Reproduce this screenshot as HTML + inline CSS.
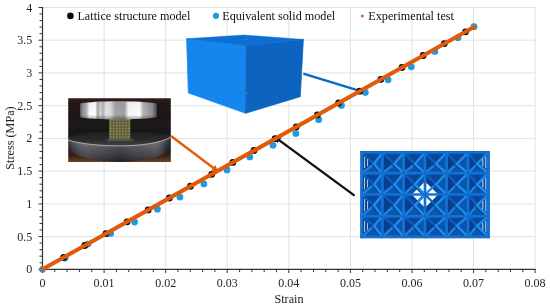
<!DOCTYPE html>
<html><head><meta charset="utf-8"><title>Stress-strain chart</title>
<style>html,body{margin:0;padding:0;background:#fff}body{width:550px;height:308px;overflow:hidden}</style></head>
<body>
<svg width="550" height="308" viewBox="0 0 550 308" style="display:block">
<rect width="550" height="308" fill="#fff"/>
<path d="M104.1 7.5V269.3M165.7 7.5V269.3M227.2 7.5V269.3M288.8 7.5V269.3M350.4 7.5V269.3M412.0 7.5V269.3M473.6 7.5V269.3M535.1 7.5V269.3M42.5 236.6H535.1M42.5 203.9H535.1M42.5 171.1H535.1M42.5 138.4H535.1M42.5 105.7H535.1M42.5 72.9H535.1M42.5 40.2H535.1M42.5 7.5H535.1" stroke="#e2e2e2" stroke-width="1" fill="none"/>
<path d="M42.5 7.0V269.3H535.6" stroke="#333" stroke-width="1.2" fill="none"/>
<path d="M42.5 269.3v3.8M54.8 269.3v2.8M67.1 269.3v2.8M79.4 269.3v2.8M91.8 269.3v2.8M104.1 269.3v3.8M116.4 269.3v2.8M128.7 269.3v2.8M141.0 269.3v2.8M153.3 269.3v2.8M165.7 269.3v3.8M178.0 269.3v2.8M190.3 269.3v2.8M202.6 269.3v2.8M214.9 269.3v2.8M227.2 269.3v3.8M239.6 269.3v2.8M251.9 269.3v2.8M264.2 269.3v2.8M276.5 269.3v2.8M288.8 269.3v3.8M301.1 269.3v2.8M313.5 269.3v2.8M325.8 269.3v2.8M338.1 269.3v2.8M350.4 269.3v3.8M362.7 269.3v2.8M375.0 269.3v2.8M387.3 269.3v2.8M399.7 269.3v2.8M412.0 269.3v3.8M424.3 269.3v2.8M436.6 269.3v2.8M448.9 269.3v2.8M461.2 269.3v2.8M473.6 269.3v3.8M485.9 269.3v2.8M498.2 269.3v2.8M510.5 269.3v2.8M522.8 269.3v2.8M535.1 269.3v3.8M42.5 269.3h-4M42.5 262.8h-3M42.5 256.2h-3M42.5 249.7h-3M42.5 243.1h-3M42.5 236.6h-4M42.5 230.0h-3M42.5 223.5h-3M42.5 216.9h-3M42.5 210.4h-3M42.5 203.9h-4M42.5 197.3h-3M42.5 190.8h-3M42.5 184.2h-3M42.5 177.7h-3M42.5 171.1h-4M42.5 164.6h-3M42.5 158.0h-3M42.5 151.5h-3M42.5 144.9h-3M42.5 138.4h-4M42.5 131.9h-3M42.5 125.3h-3M42.5 118.8h-3M42.5 112.2h-3M42.5 105.7h-4M42.5 99.1h-3M42.5 92.6h-3M42.5 86.0h-3M42.5 79.5h-3M42.5 72.9h-4M42.5 66.4h-3M42.5 59.9h-3M42.5 53.3h-3M42.5 46.8h-3M42.5 40.2h-4M42.5 33.7h-3M42.5 27.1h-3M42.5 20.6h-3M42.5 14.0h-3M42.5 7.5h-4" stroke="#333" stroke-width="1" fill="none"/>
<g font-family="Liberation Serif, serif" font-size="12" fill="#262626">
<text x="32.2" y="273.3" text-anchor="end">0</text>
<text x="32.2" y="240.6" text-anchor="end">0.5</text>
<text x="32.2" y="207.9" text-anchor="end">1</text>
<text x="32.2" y="175.1" text-anchor="end">1.5</text>
<text x="32.2" y="142.4" text-anchor="end">2</text>
<text x="32.2" y="109.7" text-anchor="end">2.5</text>
<text x="32.2" y="76.9" text-anchor="end">3</text>
<text x="32.2" y="44.2" text-anchor="end">3.5</text>
<text x="32.2" y="11.5" text-anchor="end">4</text>
<text x="42.5" y="287" text-anchor="middle">0</text>
<text x="104.1" y="287" text-anchor="middle">0.01</text>
<text x="165.7" y="287" text-anchor="middle">0.02</text>
<text x="227.2" y="287" text-anchor="middle">0.03</text>
<text x="288.8" y="287" text-anchor="middle">0.04</text>
<text x="350.4" y="287" text-anchor="middle">0.05</text>
<text x="412.0" y="287" text-anchor="middle">0.06</text>
<text x="473.6" y="287" text-anchor="middle">0.07</text>
<text x="535.1" y="287" text-anchor="middle">0.08</text>
<text x="289" y="302.5" text-anchor="middle" fill="#222" font-size="12.2">Strain</text>
<text transform="translate(14.2,138) rotate(-90)" text-anchor="middle" fill="#222" font-size="12.2">Stress (MPa)</text>
</g>
<g id="cube">
<polygon points="186.6,38.8 246.2,45.5 245.6,113.3 188.3,92.9" fill="#1486ed" stroke="#1486ed" stroke-width="0.7"/>
<polygon points="246.2,45.5 303.4,39.4 300.3,96.7 245.6,113.3" fill="#0c64c0" stroke="#0c64c0" stroke-width="0.7"/>
<polygon points="186.6,38.8 244,35.0 303.4,39.4 246.2,45.5" fill="#0d6fd2" stroke="#0d6fd2" stroke-width="0.5"/>
<path d="M244.8 39.3h2.6M245.2 93.3h2.8" stroke="#25b04a" stroke-width="0.9"/>
</g>
<g id="photo">
<defs>
<linearGradient id="pl1" x1="0" x2="1" y1="0" y2="0"><stop offset="0" stop-color="#4e4e50"/><stop offset="0.03" stop-color="#8c8c8e"/><stop offset="0.09" stop-color="#b4b4b6"/><stop offset="0.12" stop-color="#f8f8f8"/><stop offset="0.2" stop-color="#ffffff"/><stop offset="0.23" stop-color="#a9a9ab"/><stop offset="0.27" stop-color="#d4d4d6"/><stop offset="0.30" stop-color="#b0b0b2"/><stop offset="0.34" stop-color="#e6e6e6"/><stop offset="0.40" stop-color="#dcdcdc"/><stop offset="0.46" stop-color="#a6a6a8"/><stop offset="0.58" stop-color="#a0a0a3"/><stop offset="0.63" stop-color="#f6f6f6"/><stop offset="0.78" stop-color="#fcfcfc"/><stop offset="0.82" stop-color="#b6b6b8"/><stop offset="0.94" stop-color="#8f8f92"/><stop offset="1" stop-color="#4a4a4c"/></linearGradient>
<linearGradient id="pl1v" x1="0" x2="0" y1="0" y2="1"><stop offset="0" stop-color="#000" stop-opacity="0.05"/><stop offset="0.75" stop-color="#000" stop-opacity="0"/><stop offset="1" stop-color="#000" stop-opacity="0.35"/></linearGradient>
<linearGradient id="pl2" x1="0" x2="0" y1="0" y2="1"><stop offset="0" stop-color="#97999c"/><stop offset="0.12" stop-color="#76787c"/><stop offset="0.45" stop-color="#505155"/><stop offset="0.8" stop-color="#38383b"/><stop offset="1" stop-color="#222224"/></linearGradient>
<linearGradient id="pl2h" x1="0" x2="1" y1="0" y2="0"><stop offset="0" stop-color="#000" stop-opacity="0.55"/><stop offset="0.06" stop-color="#000" stop-opacity="0.2"/><stop offset="0.2" stop-color="#fff" stop-opacity="0.08"/><stop offset="0.5" stop-color="#000" stop-opacity="0.12"/><stop offset="0.8" stop-color="#fff" stop-opacity="0.05"/><stop offset="0.93" stop-color="#000" stop-opacity="0.3"/><stop offset="1" stop-color="#000" stop-opacity="0.7"/></linearGradient>
<linearGradient id="bg1" x1="0" x2="0" y1="0" y2="1"><stop offset="0" stop-color="#2e1c14"/><stop offset="0.12" stop-color="#211712"/><stop offset="0.45" stop-color="#1a1a16"/><stop offset="0.75" stop-color="#15110e"/><stop offset="0.9" stop-color="#3a2416"/><stop offset="1" stop-color="#6a4426"/></linearGradient>
<linearGradient id="top2" x1="0" x2="0" y1="0" y2="1"><stop offset="0" stop-color="#1c1c1c"/><stop offset="0.6" stop-color="#2e2e2f"/><stop offset="1" stop-color="#454547"/></linearGradient>
<clipPath id="pc"><rect x="68.2" y="98.2" width="102.6" height="63.7"/></clipPath>
</defs>
<filter id="pb" x="-5%" y="-5%" width="110%" height="110%"><feGaussianBlur stdDeviation="0.45"/></filter>
<g clip-path="url(#pc)"><g filter="url(#pb)">
<rect x="68" y="98" width="103" height="64.2" fill="url(#bg1)"/>
<path d="M67 138 C80 132.5 100 131.5 119.5 131.5 C140 131.5 160 132.5 172 136 L172 139 C160 145 140 146.5 119.5 146.5 C100 146.5 80 145 67 140Z" fill="url(#top2)"/>
<path d="M67 139.6 C75 142.6 95 145.9 119.5 145.9 C142 145.9 163 142.5 172 136.3 L172 148.5 C165 156 145 161.8 119.5 161.8 C95 161.8 76 157 67 148.5Z" fill="url(#pl2)"/>
<path d="M67 139.6 C75 142.6 95 145.9 119.5 145.9 C142 145.9 163 142.5 172 136.3 L172 148.5 C165 156 145 161.8 119.5 161.8 C95 161.8 76 157 67 148.5Z" fill="url(#pl2h)"/>
<path d="M67 139.6 C75 142.6 95 145.9 119.5 145.9 C142 145.9 163 142.5 172 136.3" stroke="#b4b6b9" stroke-width="0.9" fill="none"/>
<rect x="109" y="119" width="21.4" height="21" fill="#5f5d3b"/>
<path d="M110.6 119v21M113.6 119v21M116.7 119v21M119.8 119v21M122.9 119v21M126 119v21M129 119v21" stroke="#908d5b" stroke-width="1.5" stroke-dasharray="1.7 1.2"/>
<rect x="107" y="139.2" width="26" height="2.2" fill="#55564a" opacity="0.8"/>
<path d="M79.9 103.6 C95 100.6 140 100.6 156.8 103.6 V117.2 C140 119.9 95 119.9 79.9 117.2Z" fill="url(#pl1)"/>
<path d="M79.9 103.6 C95 100.6 140 100.6 156.8 103.6 V117.2 C140 119.9 95 119.9 79.9 117.2Z" fill="url(#pl1v)"/>
</g></g></g>
<g id="lattice">
<defs><clipPath id="lc"><rect x="360.3" y="151.0" width="129.5" height="87.3"/></clipPath></defs>
<g clip-path="url(#lc)">
<rect x="359.3" y="150.0" width="131.5" height="89.3" fill="#0a55ad"/>
<polygon points="361.8,152.5 374.0,164.0 361.8,173.2" fill="#073f8e"/><polygon points="361.8,152.5 382.4,152.5 374.0,164.0" fill="#084799"/><polygon points="382.4,152.5 394.3,164.0 382.4,173.2" fill="#073f8e"/><polygon points="382.4,152.5 403.6,152.5 394.3,164.0" fill="#084799"/><polygon points="403.6,152.5 414.9,164.0 403.6,173.2" fill="#073f8e"/><polygon points="403.6,152.5 425.0,152.5 414.9,164.0" fill="#084799"/><polygon points="425.0,152.5 435.8,164.0 425.0,173.2" fill="#073f8e"/><polygon points="425.0,152.5 446.6,152.5 435.8,164.0" fill="#084799"/><polygon points="446.6,152.5 456.7,164.0 446.6,173.2" fill="#073f8e"/><polygon points="446.6,152.5 468.1,152.5 456.7,164.0" fill="#084799"/><polygon points="468.1,152.5 476.9,164.0 468.1,173.2" fill="#073f8e"/><polygon points="468.1,152.5 488.3,152.5 476.9,164.0" fill="#084799"/><polygon points="361.8,173.2 374.0,184.4 361.8,194.5" fill="#073f8e"/><polygon points="361.8,173.2 382.4,173.2 374.0,184.4" fill="#084799"/><polygon points="382.4,173.2 394.3,184.4 382.4,194.5" fill="#073f8e"/><polygon points="382.4,173.2 403.6,173.2 394.3,184.4" fill="#084799"/><polygon points="403.6,173.2 414.9,184.4 403.6,194.5" fill="#073f8e"/><polygon points="403.6,173.2 425.0,173.2 414.9,184.4" fill="#084799"/><polygon points="425.0,173.2 435.8,184.4 425.0,194.5" fill="#073f8e"/><polygon points="425.0,173.2 446.6,173.2 435.8,184.4" fill="#084799"/><polygon points="446.6,173.2 456.7,184.4 446.6,194.5" fill="#073f8e"/><polygon points="446.6,173.2 468.1,173.2 456.7,184.4" fill="#084799"/><polygon points="468.1,173.2 476.9,184.4 468.1,194.5" fill="#073f8e"/><polygon points="468.1,173.2 488.3,173.2 476.9,184.4" fill="#084799"/><polygon points="361.8,194.5 374.0,205.3 361.8,216.4" fill="#073f8e"/><polygon points="361.8,194.5 382.4,194.5 374.0,205.3" fill="#084799"/><polygon points="382.4,194.5 394.3,205.3 382.4,216.4" fill="#073f8e"/><polygon points="382.4,194.5 403.6,194.5 394.3,205.3" fill="#084799"/><polygon points="403.6,194.5 414.9,205.3 403.6,216.4" fill="#073f8e"/><polygon points="403.6,194.5 425.0,194.5 414.9,205.3" fill="#084799"/><polygon points="425.0,194.5 435.8,205.3 425.0,216.4" fill="#073f8e"/><polygon points="425.0,194.5 446.6,194.5 435.8,205.3" fill="#084799"/><polygon points="446.6,194.5 456.7,205.3 446.6,216.4" fill="#073f8e"/><polygon points="446.6,194.5 468.1,194.5 456.7,205.3" fill="#084799"/><polygon points="468.1,194.5 476.9,205.3 468.1,216.4" fill="#073f8e"/><polygon points="468.1,194.5 488.3,194.5 476.9,205.3" fill="#084799"/><polygon points="361.8,216.4 374.0,225.8 361.8,236.8" fill="#073f8e"/><polygon points="361.8,216.4 382.4,216.4 374.0,225.8" fill="#084799"/><polygon points="382.4,216.4 394.3,225.8 382.4,236.8" fill="#073f8e"/><polygon points="382.4,216.4 403.6,216.4 394.3,225.8" fill="#084799"/><polygon points="403.6,216.4 414.9,225.8 403.6,236.8" fill="#073f8e"/><polygon points="403.6,216.4 425.0,216.4 414.9,225.8" fill="#084799"/><polygon points="425.0,216.4 435.8,225.8 425.0,236.8" fill="#073f8e"/><polygon points="425.0,216.4 446.6,216.4 435.8,225.8" fill="#084799"/><polygon points="446.6,216.4 456.7,225.8 446.6,236.8" fill="#073f8e"/><polygon points="446.6,216.4 468.1,216.4 456.7,225.8" fill="#084799"/><polygon points="468.1,216.4 476.9,225.8 468.1,236.8" fill="#073f8e"/><polygon points="468.1,216.4 488.3,216.4 476.9,225.8" fill="#084799"/>
<polygon points="411.8,194.6 425.0,181.4 438.2,194.6 425.0,207.79999999999998" fill="#fff"/>
<path d="M361.8 152.5L374.0 164.0M382.4 152.5L394.3 164.0M403.6 152.5L414.9 164.0M425.0 152.5L435.8 164.0M446.6 152.5L456.7 164.0M468.1 152.5L476.9 164.0M361.8 173.2L374.0 184.4M382.4 173.2L394.3 184.4M403.6 173.2L414.9 184.4M425.0 173.2L435.8 184.4M446.6 173.2L456.7 184.4M468.1 173.2L476.9 184.4M361.8 194.5L374.0 205.3M382.4 194.5L394.3 205.3M403.6 194.5L414.9 205.3M425.0 194.5L435.8 205.3M446.6 194.5L456.7 205.3M468.1 194.5L476.9 205.3M361.8 216.4L374.0 225.8M382.4 216.4L394.3 225.8M403.6 216.4L414.9 225.8M425.0 216.4L435.8 225.8M446.6 216.4L456.7 225.8M468.1 216.4L476.9 225.8" stroke="#0d5fbe" stroke-width="2.2" fill="none"/>
<path d="M374.0 164.0L361.8 173.2M394.3 164.0L382.4 173.2M414.9 164.0L403.6 173.2M435.8 164.0L425.0 173.2M456.7 164.0L446.6 173.2M476.9 164.0L468.1 173.2M374.0 184.4L361.8 194.5M394.3 184.4L382.4 194.5M414.9 184.4L403.6 194.5M435.8 184.4L425.0 194.5M456.7 184.4L446.6 194.5M476.9 184.4L468.1 194.5M374.0 205.3L361.8 216.4M394.3 205.3L382.4 216.4M414.9 205.3L403.6 216.4M435.8 205.3L425.0 216.4M456.7 205.3L446.6 216.4M476.9 205.3L468.1 216.4M374.0 225.8L361.8 236.8M394.3 225.8L382.4 236.8M414.9 225.8L403.6 236.8M435.8 225.8L425.0 236.8M456.7 225.8L446.6 236.8M476.9 225.8L468.1 236.8" stroke="#1a83e4" stroke-width="2.3" fill="none"/>
<path d="M382.4 152.5L374.0 164.0L382.4 173.2M403.6 152.5L394.3 164.0L403.6 173.2M425.0 152.5L414.9 164.0L425.0 173.2M446.6 152.5L435.8 164.0L446.6 173.2M468.1 152.5L456.7 164.0L468.1 173.2M488.3 152.5L476.9 164.0L488.3 173.2M382.4 173.2L374.0 184.4L382.4 194.5M403.6 173.2L394.3 184.4L403.6 194.5M425.0 173.2L414.9 184.4L425.0 194.5M446.6 173.2L435.8 184.4L446.6 194.5M468.1 173.2L456.7 184.4L468.1 194.5M488.3 173.2L476.9 184.4L488.3 194.5M382.4 194.5L374.0 205.3L382.4 216.4M403.6 194.5L394.3 205.3L403.6 216.4M425.0 194.5L414.9 205.3L425.0 216.4M446.6 194.5L435.8 205.3L446.6 216.4M468.1 194.5L456.7 205.3L468.1 216.4M488.3 194.5L476.9 205.3L488.3 216.4M382.4 216.4L374.0 225.8L382.4 236.8M403.6 216.4L394.3 225.8L403.6 236.8M425.0 216.4L414.9 225.8L425.0 236.8M446.6 216.4L435.8 225.8L446.6 236.8M468.1 216.4L456.7 225.8L468.1 236.8M488.3 216.4L476.9 225.8L488.3 236.8" stroke="#084596" stroke-width="2.6" fill="none" transform="translate(-0.9,0.6)"/>
<path d="M382.4 152.5L374.0 164.0L382.4 173.2M403.6 152.5L394.3 164.0L403.6 173.2M425.0 152.5L414.9 164.0L425.0 173.2M446.6 152.5L435.8 164.0L446.6 173.2M468.1 152.5L456.7 164.0L468.1 173.2M488.3 152.5L476.9 164.0L488.3 173.2M382.4 173.2L374.0 184.4L382.4 194.5M403.6 173.2L394.3 184.4L403.6 194.5M425.0 173.2L414.9 184.4L425.0 194.5M446.6 173.2L435.8 184.4L446.6 194.5M468.1 173.2L456.7 184.4L468.1 194.5M488.3 173.2L476.9 184.4L488.3 194.5M382.4 194.5L374.0 205.3L382.4 216.4M403.6 194.5L394.3 205.3L403.6 216.4M425.0 194.5L414.9 205.3L425.0 216.4M446.6 194.5L435.8 205.3L446.6 216.4M468.1 194.5L456.7 205.3L468.1 216.4M488.3 194.5L476.9 205.3L488.3 216.4M382.4 216.4L374.0 225.8L382.4 236.8M403.6 216.4L394.3 225.8L403.6 236.8M425.0 216.4L414.9 225.8L425.0 236.8M446.6 216.4L435.8 225.8L446.6 236.8M468.1 216.4L456.7 225.8L468.1 236.8M488.3 216.4L476.9 225.8L488.3 236.8" stroke="#1e8cec" stroke-width="2.4" fill="none"/>
<path d="M364.6 157.0V168.2M367.6 159.0V166.2M485.8 157.0V168.2M482.8 159.0V166.2M364.6 177.7V189.5M367.6 179.7V187.5M485.8 177.7V189.5M482.8 179.7V187.5M364.6 199.0V211.4M367.6 201.0V209.4M485.8 199.0V211.4M482.8 201.0V209.4M364.6 220.9V231.8M367.6 222.9V229.8M485.8 220.9V231.8M482.8 222.9V229.8" stroke="#b5d4f3" stroke-width="1" fill="none"/>
<path d="M361.8 150.0V239.3M382.4 150.0V239.3M403.6 150.0V239.3M425.0 150.0V239.3M446.6 150.0V239.3M468.1 150.0V239.3M488.3 150.0V239.3M359.3 152.5H490.8M359.3 173.2H490.8M359.3 194.5H490.8M359.3 216.4H490.8M359.3 236.8H490.8" stroke="#1272d2" stroke-width="2.7" fill="none"/>
<g fill="#0a4fa3"><circle cx="382.4" cy="173.2" r="0.55"/><circle cx="382.4" cy="194.5" r="0.55"/><circle cx="382.4" cy="216.4" r="0.55"/><circle cx="403.6" cy="173.2" r="0.55"/><circle cx="403.6" cy="194.5" r="0.55"/><circle cx="403.6" cy="216.4" r="0.55"/><circle cx="425.0" cy="173.2" r="0.55"/><circle cx="425.0" cy="194.5" r="0.55"/><circle cx="425.0" cy="216.4" r="0.55"/><circle cx="446.6" cy="173.2" r="0.55"/><circle cx="446.6" cy="194.5" r="0.55"/><circle cx="446.6" cy="216.4" r="0.55"/><circle cx="468.1" cy="173.2" r="0.55"/><circle cx="468.1" cy="194.5" r="0.55"/><circle cx="468.1" cy="216.4" r="0.55"/></g>
</g></g>
<path d="M303.3 73.7L363 91.8" stroke="#0b69bf" stroke-width="2.3" fill="none"/>
<path d="M277 138.6L354.6 195.6" stroke="#111" stroke-width="2.4" fill="none"/>
<path d="M171 136L215.5 169.5" stroke="#e15a0a" stroke-width="2.3" fill="none"/>
<path d="M218.2 171.5L211.2 170.4 215.2 165.1z" fill="#e15a0a"/>
<path d="M274.2 136.5L277.5 143 281.5 137.8z" fill="#111"/>
<circle cx="42.5" cy="269.3" r="3.4" fill="#1f9ae0"/>
<circle cx="65.1" cy="258.0" r="3.4" fill="#1f9ae0"/>
<circle cx="87.9" cy="244.1" r="3.4" fill="#1f9ae0"/>
<circle cx="110.7" cy="233.4" r="3.4" fill="#1f9ae0"/>
<circle cx="134.6" cy="222.1" r="3.4" fill="#1f9ae0"/>
<circle cx="157.4" cy="209.2" r="3.4" fill="#1f9ae0"/>
<circle cx="179.9" cy="197.1" r="3.4" fill="#1f9ae0"/>
<circle cx="203.9" cy="183.9" r="3.4" fill="#1f9ae0"/>
<circle cx="227.0" cy="169.9" r="3.4" fill="#1f9ae0"/>
<circle cx="249.8" cy="156.9" r="3.4" fill="#1f9ae0"/>
<circle cx="273.0" cy="145.3" r="3.4" fill="#1f9ae0"/>
<circle cx="295.8" cy="133.4" r="3.4" fill="#1f9ae0"/>
<circle cx="318.7" cy="119.7" r="3.4" fill="#1f9ae0"/>
<circle cx="341.5" cy="105.4" r="3.4" fill="#1f9ae0"/>
<circle cx="365.3" cy="92.4" r="3.4" fill="#1f9ae0"/>
<circle cx="388.1" cy="79.8" r="3.4" fill="#1f9ae0"/>
<circle cx="411.3" cy="66.8" r="3.4" fill="#1f9ae0"/>
<circle cx="434.8" cy="51.4" r="3.4" fill="#1f9ae0"/>
<circle cx="458.0" cy="37.8" r="3.4" fill="#1f9ae0"/>
<circle cx="474.0" cy="26.7" r="3.4" fill="#1f9ae0"/>
<circle cx="63.6" cy="257.4" r="3.4" fill="#0a0a0a"/>
<circle cx="84.8" cy="245.5" r="3.4" fill="#0a0a0a"/>
<circle cx="105.9" cy="233.7" r="3.4" fill="#0a0a0a"/>
<circle cx="127.1" cy="221.8" r="3.4" fill="#0a0a0a"/>
<circle cx="148.2" cy="209.9" r="3.4" fill="#0a0a0a"/>
<circle cx="169.4" cy="198.0" r="3.4" fill="#0a0a0a"/>
<circle cx="190.5" cy="186.2" r="3.4" fill="#0a0a0a"/>
<circle cx="211.7" cy="174.3" r="3.4" fill="#0a0a0a"/>
<circle cx="232.8" cy="162.4" r="3.4" fill="#0a0a0a"/>
<circle cx="254.0" cy="150.5" r="3.4" fill="#0a0a0a"/>
<circle cx="275.1" cy="138.7" r="3.4" fill="#0a0a0a"/>
<circle cx="296.3" cy="126.8" r="3.4" fill="#0a0a0a"/>
<circle cx="317.4" cy="114.9" r="3.4" fill="#0a0a0a"/>
<circle cx="338.6" cy="103.0" r="3.4" fill="#0a0a0a"/>
<circle cx="359.8" cy="91.2" r="3.4" fill="#0a0a0a"/>
<circle cx="380.9" cy="79.3" r="3.4" fill="#0a0a0a"/>
<circle cx="402.0" cy="67.4" r="3.4" fill="#0a0a0a"/>
<circle cx="423.2" cy="55.5" r="3.4" fill="#0a0a0a"/>
<circle cx="444.3" cy="43.6" r="3.4" fill="#0a0a0a"/>
<circle cx="465.5" cy="31.8" r="3.4" fill="#0a0a0a"/>
<path d="M42.5 269.3L474.0 27.0" stroke="#e15a0a" stroke-width="4.1" stroke-linecap="round" fill="none"/>
<g font-family="Liberation Serif, serif" font-size="12.2" fill="#111">
<circle cx="70.4" cy="15.9" r="3.3" fill="#0a0a0a"/><text x="77.4" y="19.8">Lattice structure model</text>
<circle cx="216" cy="15.8" r="3.1" fill="#1f9ae0"/><text x="222.2" y="19.8">Equivalent solid model</text>
<circle cx="362.3" cy="16" r="1.5" fill="#e0601a"/><text x="368.3" y="19.8">Experimental test</text>
</g>
</svg>
</body></html>
